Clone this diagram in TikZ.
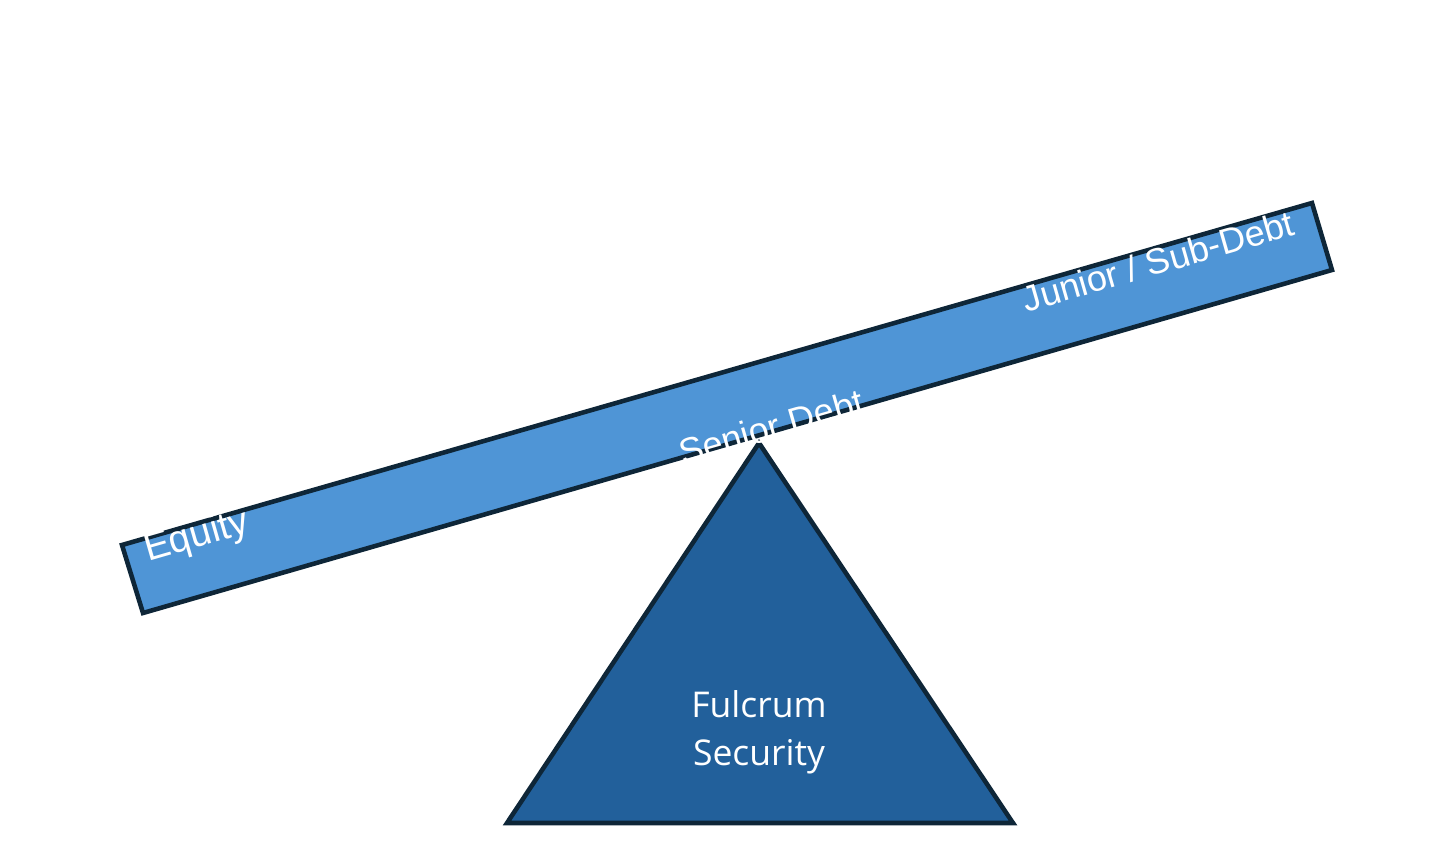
\documentclass[tikz,border=0pt]{standalone}
\usepackage{fontspec}
\setmainfont{Open Sans}
\newfontfamily\beamfont{Liberation Sans}
\usepackage{xcolor}
\definecolor{beamBlue}{HTML}{4F95D6}
\definecolor{baseBlue}{HTML}{22609B}
\definecolor{edgeDark}{HTML}{0E2638}

\begin{document}
\begin{tikzpicture}[x=0.2mm, y=-0.2mm]
  \useasboundingbox (0,0) rectangle (1456,863);
  \tikzset{
    beamlabel/.style={text=white, inner sep=0pt, rotate=16.05,
      font=\beamfont\fontsize{20.5}{24}\selectfont},
    baselabel/.style={text=white, inner sep=0pt,
      font=\fontsize{20.2}{24}\selectfont}
  }
  \filldraw[fill=baseBlue, draw=edgeDark, line width=2.6pt, line join=miter]
    (759,443) -- (1013,823) -- (507,823) -- cycle;
  \filldraw[fill=beamBlue, draw=edgeDark, line width=2.6pt, line join=miter]
    (122,545) -- (1312,203) -- (1332,270) -- (143,613) -- cycle;
  \node[beamlabel, scale=1.07] (equity) at (197,537) {Equity};
  \node[beamlabel] (senior) at (771,427) {Senior Debt};
  \node[beamlabel] (junior) at (1158,261) {Junior / Sub-Debt};
  \node[baselabel] (fulcrum) at (759,704) {Fulcrum};
  \node[baselabel] (security) at (759,757) {Security};
\end{tikzpicture}
\end{document}
